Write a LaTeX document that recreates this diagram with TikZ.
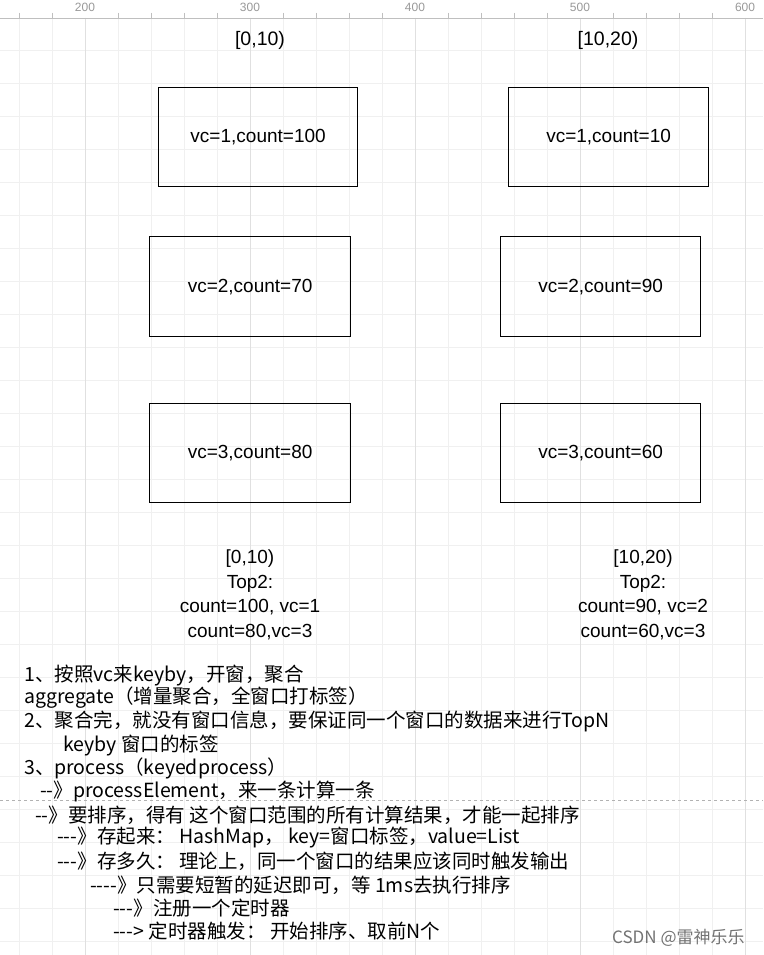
\documentclass[tikz,border=0pt]{standalone}
\usepackage{fontspec}
\setmainfont{Liberation Sans}
\newfontfamily\cjk{Noto Sans CJK SC}
\begin{document}
\begin{tikzpicture}[x=1pt,y=-1pt,
  box/.style={draw,line width=1.2pt,anchor=north west,inner sep=0pt,font=\fontsize{19}{21}\selectfont},
  lbl/.style={font=\fontsize{19.5}{22}\selectfont,align=center},
  txt/.style={anchor=west,inner sep=0pt,font=\cjk\fontsize{19.5}{21}\selectfont}]
\useasboundingbox (0,0) rectangle (763,955);
\fill[white] (0,0) rectangle (763,955);
\foreach \x in {19,52,...,763} \draw[black!6] (\x,18) -- (\x,955);
\foreach \y in {50,83,...,955} \draw[black!6] (0,\y) -- (763,\y);
\foreach \x in {85,250,415,580,745} \draw[black!12] (\x,18) -- (\x,955);
\draw[black!25] (0,18) -- (763,18);
\foreach \x/\t in {85/200,250/300,415/400,580/500,745/600}
  \node[font=\fontsize{12}{13}\selectfont,text=black!40] at (\x,7) {\t};
\foreach \x in {19,52,118,151,184,217,283,316,349,382,448,481,514,547,613,646,679,712}
  \draw[black!25] (\x,13) -- (\x,18);
\draw[black!30,dashed] (0,800) -- (763,800);
\node[lbl] (w1) at (260,40) {[0,10)};
\node[lbl] (w2) at (608,40) {[10,20)};
\node[box,minimum width=199pt,minimum height=99pt] (a1) at (158,87) {vc=1,count=100};
\node[box,minimum width=201pt,minimum height=100pt] (a2) at (149,236) {vc=2,count=70};
\node[box,minimum width=201pt,minimum height=99pt] (a3) at (149,403) {vc=3,count=80};
\node[box,minimum width=200pt,minimum height=99pt] (b1) at (508,87) {vc=1,count=10};
\node[box,minimum width=200pt,minimum height=100pt] (b2) at (500,236) {vc=2,count=90};
\node[box,minimum width=200pt,minimum height=99pt] (b3) at (500,403) {vc=3,count=60};
\node[lbl,font=\fontsize{19}{24.5}\selectfont] (t1) at (250,595) {[0,10)\\Top2:\\count=100, vc=1\\count=80,vc=3};
\node[lbl,font=\fontsize{19}{24.5}\selectfont] (t2) at (643,595) {[10,20)\\Top2:\\count=90, vc=2\\count=60,vc=3};
\node[txt] (l1) at (24,676) {1、按照vc来keyby，开窗，聚合};
\node[txt] (l2) at (24,698) {aggregate（增量聚合，全窗口打标签）};
\node[txt] (l3) at (24,721) {2、聚合完，就没有窗口信息，要保证同一个窗口的数据来进行TopN};
\node[txt] (l4) at (63,746) {keyby 窗口的标签};
\node[txt] (l5) at (24,768) {3、process（keyedprocess）};
\node[txt] (l6) at (40,791) {--》processElement，来一条计算一条};
\node[txt] (l7) at (35,815) {--》要排序，得有 这个窗口范围的所有计算结果，才能一起排序};
\node[txt] (l8) at (57,838) {---》存起来： HashMap， key=窗口标签，value=List};
\node[txt] (l9) at (57,861) {---》存多久： 理论上，同一个窗口的结果应该同时触发输出};
\node[txt] (l10) at (90,885) {----》只需要短暂的延迟即可，等 1ms去执行排序};
\node[txt] (l11) at (113,908) {---》注册一个定时器};
\node[txt] (l12) at (113,931) {---> 定时器触发： 开始排序、取前N个};
\node[txt,text=black!55,font=\cjk\fontsize{17}{19}\selectfont] (wm) at (612,938) {CSDN @雷神乐乐};
\end{tikzpicture}
\end{document}
